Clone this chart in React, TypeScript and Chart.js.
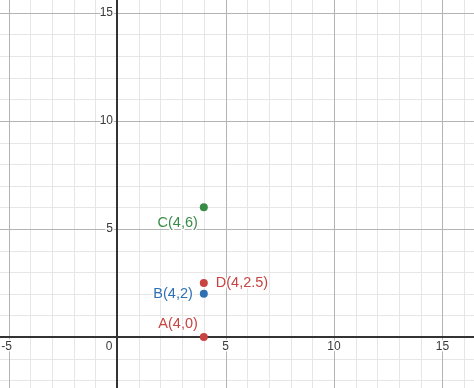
import React, { useEffect, useRef } from 'react';
import { Chart, registerables } from 'chart.js';
Chart.register(...registerables);

// ---- data ----
const pointNames = ['A', 'B', 'C', 'D'];
const pointX = [4, 4, 4, 4];
const pointY = [0, 2, 6, 2.5];
const pointLabels = ['A(4,0)', 'B(4,2)', 'C(4,6)', 'D(4,2.5)'];
const pointColors = ['#c74440', '#2d70b3', '#388c46', '#c74440'];
const xTickLabels = [-5, 0, 5, 10, 15];
const yTickLabels = [5, 10, 15];
const xRange = [-5.21, 16.27];
const yRange = [-2.175, 15.41];

const FONT = '"Liberation Sans", Arial, sans-serif';

const desmosPlugin = {
  id: 'desmosGrid',
  beforeDatasetsDraw(chart: any) {
    const ctx = chart.ctx;
    const xs = chart.scales.x;
    const ys = chart.scales.y;
    const W = chart.width;
    const H = chart.height;
    ctx.save();
    ctx.fillStyle = '#ffffff';
    ctx.fillRect(0, 0, W, H);
    const crisp = (v: number) => Math.round(v) + 0.5;
    const drawV = (v: number, color: string) => {
      const p = crisp(xs.getPixelForValue(v));
      ctx.strokeStyle = color;
      ctx.lineWidth = 1;
      ctx.beginPath();
      ctx.moveTo(p, 0);
      ctx.lineTo(p, H);
      ctx.stroke();
    };
    const drawH = (v: number, color: string) => {
      const p = crisp(ys.getPixelForValue(v));
      ctx.strokeStyle = color;
      ctx.lineWidth = 1;
      ctx.beginPath();
      ctx.moveTo(0, p);
      ctx.lineTo(W, p);
      ctx.stroke();
    };
    for (let v = Math.ceil(xs.min); v <= Math.floor(xs.max); v++) {
      if (v % 5 !== 0) drawV(v, '#e6e6e6');
    }
    for (let v = Math.ceil(ys.min); v <= Math.floor(ys.max); v++) {
      if (v % 5 !== 0) drawH(v, '#e6e6e6');
    }
    for (let v = Math.ceil(xs.min); v <= Math.floor(xs.max); v++) {
      if (v % 5 === 0 && v !== 0) drawV(v, '#b3b3b3');
    }
    for (let v = Math.ceil(ys.min); v <= Math.floor(ys.max); v++) {
      if (v % 5 === 0 && v !== 0) drawH(v, '#b3b3b3');
    }
    // axes
    const ax = Math.round(xs.getPixelForValue(0));
    const ay = Math.round(ys.getPixelForValue(0));
    ctx.strokeStyle = '#333333';
    ctx.lineWidth = 2;
    ctx.beginPath();
    ctx.moveTo(ax, 0);
    ctx.lineTo(ax, H);
    ctx.moveTo(0, ay);
    ctx.lineTo(W, ay);
    ctx.stroke();

    // tick labels
    ctx.font = '12px ' + FONT;
    ctx.textBaseline = 'middle';
    ctx.lineJoin = 'round';
    const txt = (s: string, x: number, y: number, align: CanvasTextAlign) => {
      ctx.textAlign = align;
      ctx.strokeStyle = 'rgba(255,255,255,0.9)';
      ctx.lineWidth = 3;
      ctx.strokeText(s, x, y);
      ctx.fillStyle = '#3a3a3a';
      ctx.fillText(s, x, y);
    };
    xTickLabels.forEach((v) => {
      const p = xs.getPixelForValue(v);
      const y = ay + 10;
      if (v === 0) {
        txt('0', ax - 8, y, 'center');
      } else if (v < 0) {
        const digits = String(Math.abs(v));
        const w = ctx.measureText(digits).width;
        txt('-' + digits, p + w / 2, y, 'right');
      } else {
        txt(String(v), p, y, 'center');
      }
    });
    yTickLabels.forEach((v) => {
      const p = ys.getPixelForValue(v);
      txt(String(v), ax - 4, p, 'right');
    });
    ctx.restore();
  },
  afterDatasetsDraw(chart: any) {
    const ctx = chart.ctx;
    const xs = chart.scales.x;
    const ys = chart.scales.y;
    const anchor: Record<string, [number, number, CanvasTextAlign]> = {
      A: [-6, -13, 'right'],
      B: [-11, 0, 'right'],
      C: [-6, 16, 'right'],
      D: [12, 0, 'left'],
    };
    ctx.save();
    ctx.font = '14.5px ' + FONT;
    ctx.textBaseline = 'middle';
    ctx.lineJoin = 'round';
    pointNames.forEach((n, i) => {
      const px = xs.getPixelForValue(pointX[i]);
      const py = ys.getPixelForValue(pointY[i]);
      const [dx, dy, align] = anchor[n];
      ctx.textAlign = align;
      ctx.strokeStyle = 'rgba(255,255,255,0.9)';
      ctx.lineWidth = 3;
      ctx.strokeText(pointLabels[i], px + dx, py + dy);
      ctx.fillStyle = pointColors[i];
      ctx.fillText(pointLabels[i], px + dx, py + dy);
    });
    ctx.restore();
  },
};

export default function App() {
  const ref = useRef<HTMLCanvasElement | null>(null);
  useEffect(() => {
    document.body.style.margin = '0';
    if (!ref.current) return;
    const chart = new Chart(ref.current, {
      type: 'scatter',
      data: {
        datasets: [
          {
            label: 'points',
            data: pointX.map((x, i) => ({ x, y: pointY[i] })),
            backgroundColor: pointColors,
            borderColor: pointColors,
            borderWidth: 0,
            pointRadius: 4,
            pointHoverRadius: 4,
          },
        ],
      },
      options: {
        responsive: false,
        animation: false,
        events: [],
        layout: { padding: 0 },
        plugins: {
          legend: { display: false },
          tooltip: { enabled: false },
        },
        scales: {
          x: { type: 'linear', min: xRange[0], max: xRange[1], display: false },
          y: { type: 'linear', min: yRange[0], max: yRange[1], display: false },
        },
      },
      plugins: [desmosPlugin],
    });
    return () => chart.destroy();
  }, []);
  return (
    <canvas
      ref={ref}
      width={474}
      height={388}
      style={{ position: 'fixed', left: 0, top: 0, width: 474, height: 388 }}
    />
  );
}
